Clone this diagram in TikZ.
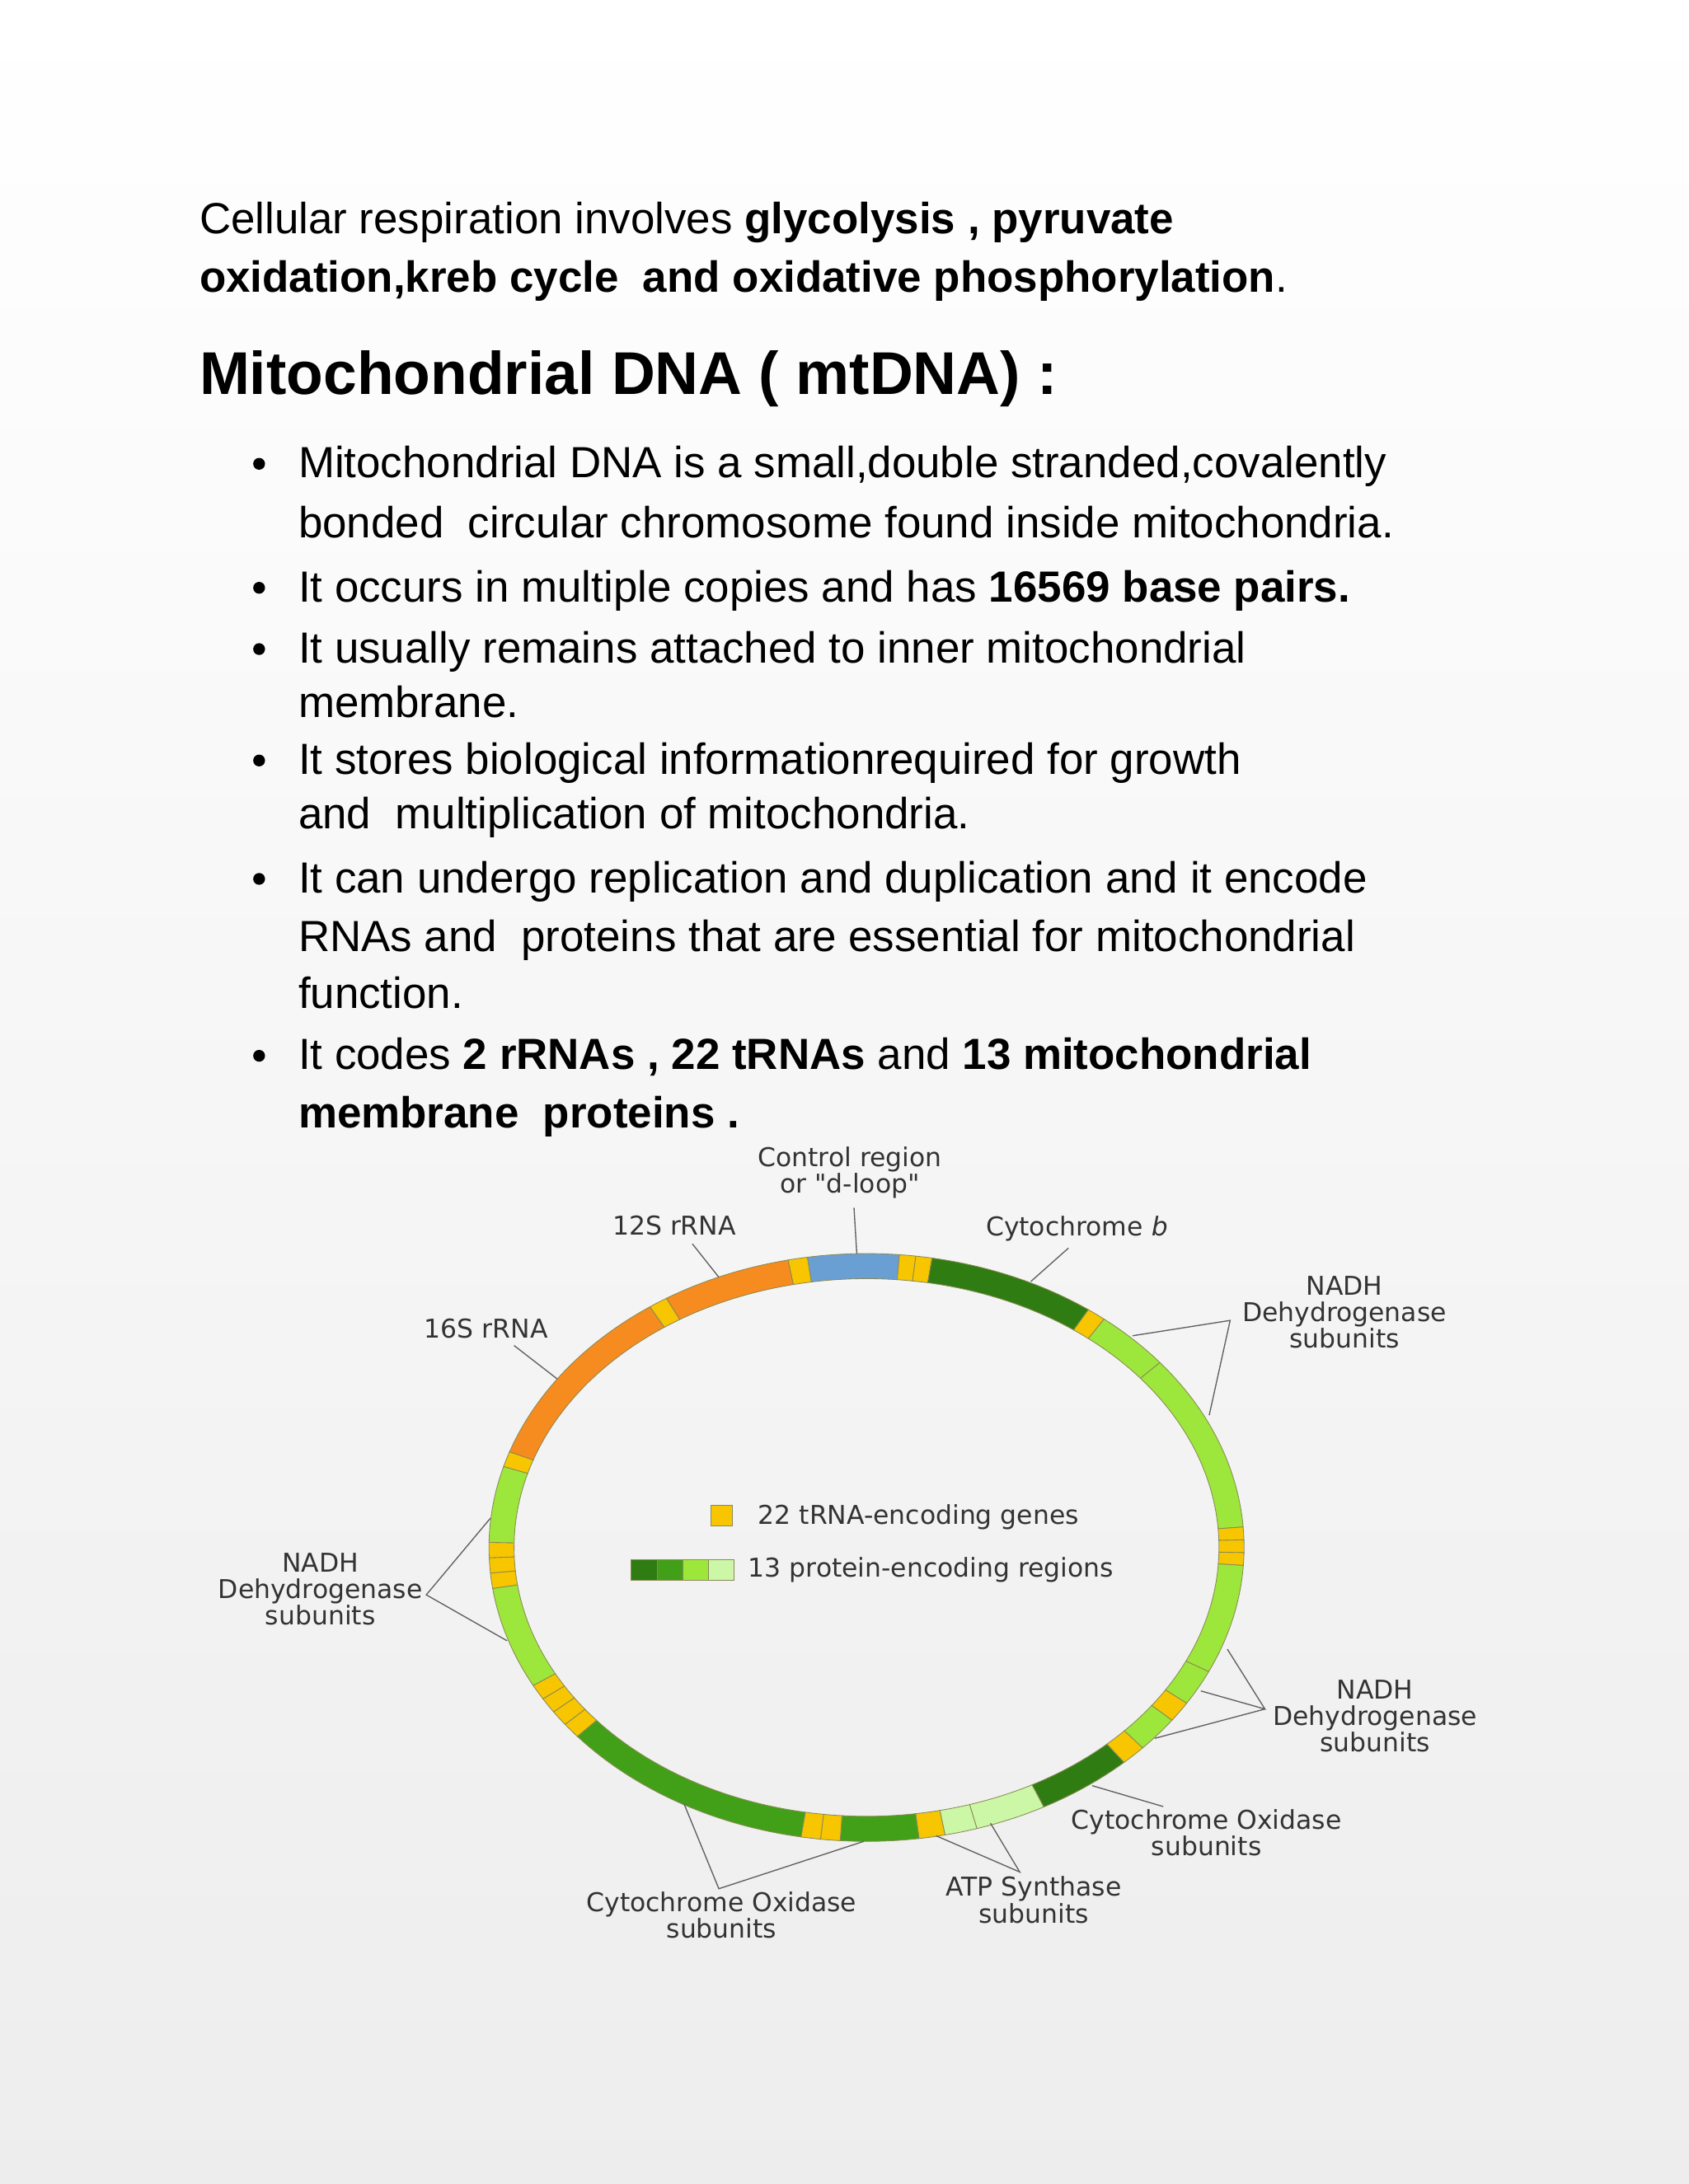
\documentclass[tikz,border=0pt]{standalone}
\usepackage{fontspec}
\setmainfont{Liberation Sans}
\newfontfamily\djvfont{DejaVu Sans}
\usetikzlibrary{calc}
\definecolor{orng}{HTML}{F68B1F}
\definecolor{blu}{HTML}{6A9FD4}
\definecolor{dkg}{HTML}{2F7D12}
\definecolor{mdg}{HTML}{42A018}
\definecolor{ltg}{HTML}{9DE63C}
\definecolor{vlg}{HTML}{CBF7A6}
\definecolor{ylw}{HTML}{F7C600}
\definecolor{ringline}{HTML}{8A8A55}
\definecolor{lbl}{HTML}{333333}
\tikzset{
 body/.style={anchor=base west,font=\fontsize{31.3}{36}\selectfont,inner sep=0},
 head/.style={anchor=base west,font=\fontsize{43.3}{50}\selectfont\bfseries,inner sep=0},
 blt/.style={fill=black,circle,inner sep=0,minimum size=8.5pt},
 dlab/.style={font=\djvfont\fontsize{18.6}{19}\selectfont,text=lbl,align=center,inner sep=1pt},
 lead/.style={draw=gray!75!black,line width=0.8pt},
 gbox/.style={draw=ringline,minimum width=18.5pt,minimum height=15pt,inner sep=0}
}
\newcommand\seg[3]{\filldraw[fill=#3,draw=ringline,line width=0.5pt] ($(C)+(#1:271pt and 211pt)$) arc[start angle=#1,end angle=#2,x radius=271pt,y radius=211pt] -- ($(C)+(#2:253pt and 193pt)$) arc[start angle=#2,end angle=#1,x radius=253pt,y radius=193pt] -- cycle;}
\begin{document}
\begin{tikzpicture}[x=1pt,y=-1pt]
\shade[top color=white,bottom color=gray!14] (0,0) rectangle (1212,1568);
\useasboundingbox (0,0) rectangle (1212,1568);
% text
\node[body] (l1) at (143,168) {Cellular respiration involves \textbf{glycolysis , pyruvate}};
\node[body] (l2) at (143,210) {\textbf{oxidation,kreb cycle\ \ and oxidative phosphorylation}.};
\node[head] (h) at (143,283) {Mitochondrial DNA ( mtDNA) :};
\foreach \y in {343,432,476,556,641,768} {\node[blt] at (186,\y-10) {};}
\node[body] (b1a) at (214,343) {Mitochondrial DNA is a small,double stranded,covalently};
\node[body] (b1b) at (214,386) {bonded\ \ circular chromosome found inside mitochondria.};
\node[body] (b2) at (214,432) {It occurs in multiple copies and has \textbf{16569 base pairs.}};
\node[body] (b3a) at (214,476) {It usually remains attached to inner mitochondrial};
\node[body] (b3b) at (214,515) {membrane.};
\node[body] (b4a) at (214,556) {It stores biological informationrequired for growth};
\node[body] (b4b) at (214,595) {and\ \ multiplication of mitochondria.};
\node[body] (b5a) at (214,641) {It can undergo replication and duplication and it encode};
\node[body] (b5b) at (214,683) {RNAs and\ \ proteins that are essential for mitochondrial};
\node[body] (b5c) at (214,724) {function.};
\node[body] (b6a) at (214,768) {It codes \textbf{2 rRNAs , 22 tRNAs} and \textbf{13 mitochondrial}};
\node[body] (b6b) at (214,810) {\textbf{membrane\ \ proteins .}};
% ring
\coordinate (C) at (622,1111);
\seg{102}{99}{ylw}
\seg{99}{85}{blu}
\seg{85}{82.5}{ylw}\seg{82.5}{80}{ylw}
\seg{80}{54}{dkg}
\seg{54}{51}{ylw}
\seg{51}{39}{ltg}\seg{39}{4}{ltg}
\seg{4}{1.5}{ylw}\seg{1.5}{-1}{ylw}\seg{-1}{-3.5}{ylw}
\seg{-3.5}{-25}{ltg}\seg{-25}{-32}{ltg}
\seg{-32}{-36}{ylw}
\seg{-36}{-43}{ltg}
\seg{-43}{-47}{ylw}
\seg{-47}{-62}{dkg}
\seg{-62}{-73}{vlg}\seg{-73}{-78}{vlg}
\seg{-78}{-82}{ylw}
\seg{-82}{-94}{mdg}
\seg{-94}{-97}{ylw}\seg{-97}{-100}{ylw}
\seg{-100}{-140}{mdg}
\seg{-140}{-143}{ylw}\seg{-143}{-146}{ylw}\seg{-146}{-149}{ylw}\seg{-149}{-152}{ylw}
\seg{-152}{-172}{ltg}
\seg{-172}{-175}{ylw}\seg{-175}{-178}{ylw}\seg{-178}{-181}{ylw}
\seg{-181}{-196}{ltg}
\seg{-196}{-199}{ylw}
\seg{-199}{-235}{orng}
\seg{-235}{-238}{ylw}
\seg{-238}{-258}{orng}
% legend
\node[draw=ringline,fill=ylw,minimum size=15pt,inner sep=0] (lg1) at (518,1088) {};
\node[dlab,anchor=west] (lt1) at (543,1089) {22 tRNA-encoding genes};
\node[gbox,fill=dkg] (g1) at (462.25,1127) {};
\node[gbox,fill=mdg] (g2) at (480.75,1127) {};
\node[gbox,fill=ltg] (g3) at (499.25,1127) {};
\node[gbox,fill=vlg] (g4) at (517.75,1127) {};
\node[dlab,anchor=west] (lt2) at (536,1127) {13 protein-encoding regions};
% labels
\node[dlab] (cr) at (610,842) {Control region\\or "d-loop"};
\node[dlab] (s12) at (484,880) {12S rRNA};
\node[dlab] (cb) at (773,882) {Cytochrome \textit{b}};
\node[dlab] (s16) at (349,954) {16S rRNA};
\node[dlab] (n1) at (965,942) {NADH\\Dehydrogenase\\subunits};
\node[dlab] (n2) at (230,1141) {NADH\\Dehydrogenase\\subunits};
\node[dlab] (n3) at (987,1232) {NADH\\Dehydrogenase\\subunits};
\node[dlab] (co1) at (866,1316) {Cytochrome Oxidase\\subunits};
\node[dlab] (atp) at (742,1364) {ATP Synthase\\subunits};
\node[dlab] (co2) at (518,1375) {Cytochrome Oxidase\\subunits};
% leaders
\coordinate (p1) at (615,900); \draw[lead] (613,867) -- (p1);
\coordinate (p2) at (516,917); \draw[lead] (497,893) -- (p2);
\coordinate (p3) at (740,920); \draw[lead] (767,896) -- (p3);
\coordinate (p4) at (400,990); \draw[lead] (369,966) -- (p4);
\coordinate (a1) at (883,948);
\draw[lead] (813,959) -- (a1) -- (868,1016);
\coordinate (a2) at (306,1145);
\draw[lead] (352,1090) -- (a2) -- (364,1178);
\coordinate (a3) at (908,1227);
\draw[lead] (881,1184) -- (a3) -- (862,1214) (a3) -- (829,1248);
\draw[lead] (835,1297) -- (784,1282);
\coordinate (a4) at (732,1344);
\draw[lead] (711,1309) -- (a4) -- (672,1318);
\coordinate (a5) at (516,1356);
\draw[lead] (491,1295) -- (a5) -- (620,1322);
\end{tikzpicture}
\end{document}
